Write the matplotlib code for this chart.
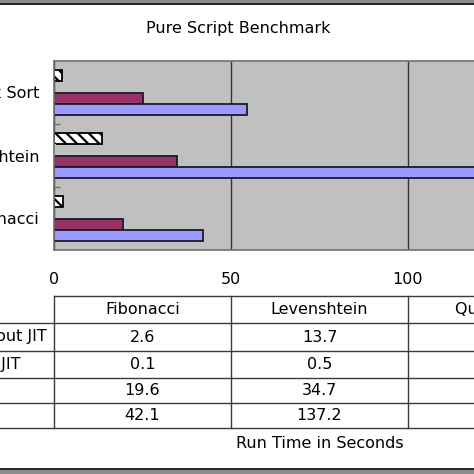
import matplotlib
matplotlib.use("Agg")
import matplotlib.pyplot as plt
from matplotlib.lines import Line2D
from matplotlib.patches import Rectangle
import numpy as np

# ---- data ----
categories = ["Fibonacci", "Levenshtein", "Quick Sort"]
series_names = ["Rhino without JIT", "Rhino with JIT", "", ""]
series_values = [
    [2.6, 13.7, 2.2],     # hatched
    [0.1, 0.5, 0.1],      # with JIT
    [19.6, 34.7, 25.0],   # magenta
    [42.1, 137.2, 54.4],  # blue
]
table_text = [
    ["2.6", "13.7", "2.2"],
    ["0.1", "0.5", "0.1"],
    ["19.6", "34.7", "25.0"],
    ["42.1", "137.2", "54.4"],
]
x_ticks = [0, 50, 100, 150]
title = "Pure Script Benchmark"
x_title = "Run Time in Seconds"

W = H = 474
DPI = 100
plt.rcParams["font.family"] = ["DejaVu Sans"]
plt.rcParams["hatch.linewidth"] = 1.6
FS = 11.5

fig = plt.figure(figsize=(W / DPI, H / DPI), dpi=DPI, facecolor="white")


def fx(x):
    return x / W


def fy(y):
    return 1 - y / H


# plot area (extends beyond the right edge, as in the cropped reference)
L, R, T, B = 54, 585, 61, 250
ax = fig.add_axes([fx(L), fy(B), fx(R - L), (B - T) / H])
ax.set_facecolor("#c0c0c0")
ax.set_xlim(0, 150)
ax.set_ylim(-0.5, 2.5)

slot = 0.1825
offsets = [1.5 * slot, 0.5 * slot, -0.5 * slot, -1.5 * slot]
styles = [
    dict(color="white", hatch="\\\\\\", edgecolor="black", linewidth=1.3),
    dict(color="#c8c8b0", edgecolor="none", linewidth=0),
    dict(color="#993366", edgecolor="#1a1a2e", linewidth=1.3),
    dict(color="#9999ff", edgecolor="#1a1a2e", linewidth=1.3),
]
y = np.arange(len(categories))
for vals, off, st in zip(series_values, offsets, styles):
    ax.barh(y + off, vals, height=slot, zorder=2, **st)

ax.set_xticks(x_ticks)
ax.set_xticklabels([str(t) for t in x_ticks], fontsize=FS)
ax.tick_params(axis="x", length=0, pad=15.5)
ax.grid(axis="x", color="#333333", linewidth=1.0, zorder=1)
ax.set_axisbelow(True)
ax.set_yticks(y)
ax.set_yticklabels(categories, fontsize=FS)
ax.tick_params(axis="y", which="major", length=0, pad=10.5)
ax.set_yticks([0.5, 1.5], minor=True)
ax.tick_params(axis="y", which="minor", direction="in", length=4.5,
               color="#707070", width=1)
for s in ["left", "bottom", "top"]:
    ax.spines[s].set_color("#707070")
    ax.spines[s].set_linewidth(1.2)
    ax.spines[s].set_zorder(3)
ax.spines["right"].set_visible(False)

# title
fig.text(fx(238), fy(28), title, fontsize=FS, ha="center", va="center")

# data table
row_lines = [296, 323, 351, 378, 403, 428]
col_x = [L + (R - L) * i / 3 for i in range(4)]
lc = "#3a3a3a"
fig.add_artist(Line2D([fx(L), fx(R)], [fy(row_lines[0])] * 2, color=lc, lw=1))
for yy in row_lines[1:]:
    fig.add_artist(Line2D([fx(-100), fx(R)], [fy(yy)] * 2, color=lc, lw=1))
for xx in col_x:
    fig.add_artist(Line2D([fx(xx)] * 2, [fy(row_lines[0]), fy(row_lines[-1])],
                          color=lc, lw=1))
for j, cat in enumerate(categories):
    cx = (col_x[j] + col_x[j + 1]) / 2
    fig.text(fx(cx), fy((row_lines[0] + row_lines[1]) / 2), cat,
             fontsize=FS, ha="center", va="center")
    for i in range(4):
        fig.text(fx(cx), fy((row_lines[i + 1] + row_lines[i + 2]) / 2),
                 table_text[i][j], fontsize=FS, ha="center", va="center")
# row labels (mostly cropped off on the left)
label_right = [46.7, 20.5, -200, -200]
for i, name in enumerate(series_names):
    if name:
        fig.text(fx(label_right[i]), fy((row_lines[i + 1] + row_lines[i + 2]) / 2),
                 name, fontsize=FS, ha="right", va="center")

# axis title
fig.text(fx((L + R) / 2), fy(444), x_title, fontsize=FS, ha="center", va="center")

# outer chart border (top and bottom visible)
fig.add_artist(Rectangle((0, fy(3)), 1, 3 / H, transform=fig.transFigure,
                         color="#8c8c8c", lw=0))
fig.add_artist(Line2D([0, 1], [fy(3.8)] * 2, color="#111111", lw=1.3))
fig.add_artist(Rectangle((0, 0), 1, 4.5 / H, transform=fig.transFigure,
                         color="#8c8c8c", lw=0))
fig.add_artist(Line2D([0, 1], [fy(469.3)] * 2, color="#111111", lw=1.3))

fig.savefig("out.png", dpi=DPI, facecolor="white")
